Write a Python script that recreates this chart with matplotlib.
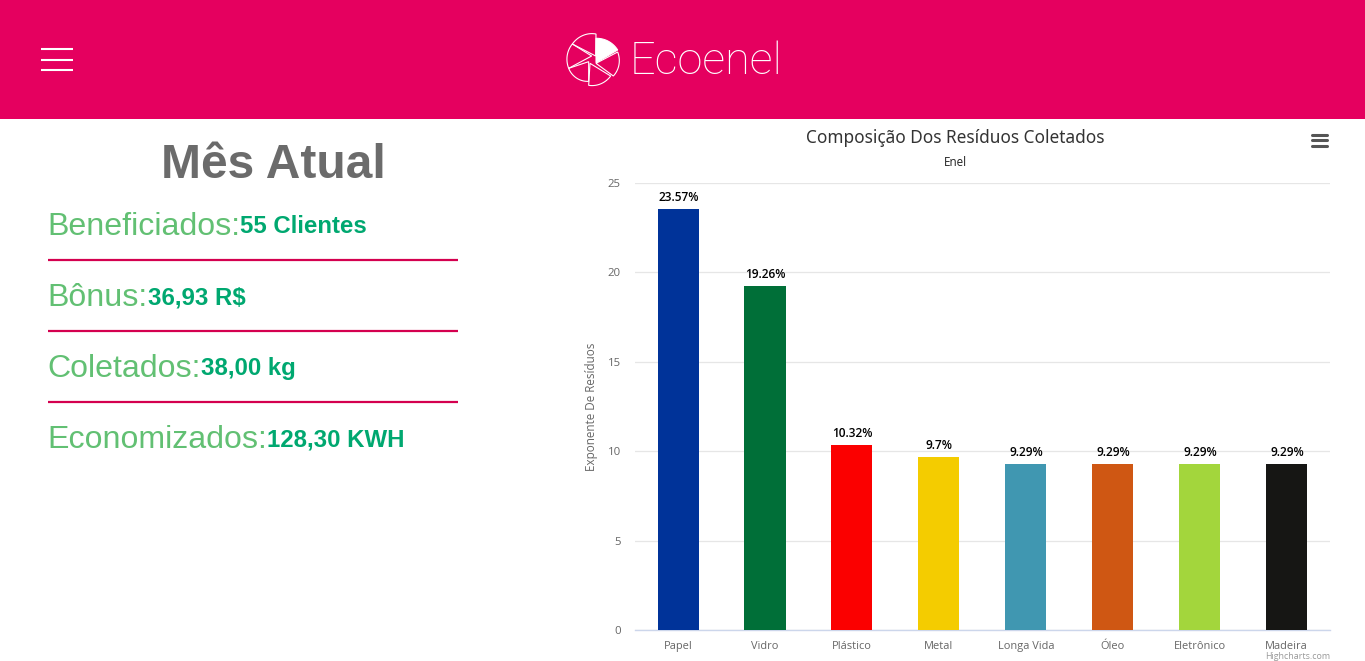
import numpy as np
import matplotlib
matplotlib.use("Agg")
import matplotlib.pyplot as plt
from matplotlib.patches import Rectangle, Polygon

categories = ["Papel", "Vidro", "Plástico", "Metal", "Longa Vida", "Óleo", "Eletrônico", "Madeira"]
values = [23.57, 19.26, 10.32, 9.7, 9.29, 9.29, 9.29, 9.29]
labels = ["23.57%", "19.26%", "10.32%", "9.7%", "9.29%", "9.29%", "9.29%", "9.29%"]
colors = ["#003399", "#006f38", "#fb0000", "#f4cc00", "#4097b1", "#cf5713", "#a3d63c", "#161614"]
yticks = [0, 5, 10, 15, 20, 25]
stat_names = ["Beneficiados:", "Bônus:", "Coletados:", "Economizados:"]
stat_values = ["55 Clientes", "36,93 R$", "38,00 kg", "128,30 KWH"]

W, H = 1365, 661
PINK = "#e5005f"
fig = plt.figure(figsize=(W / 100, H / 100), dpi=100, facecolor="white")

# Page overlay in pixel coordinates
bg = fig.add_axes([0, 0, 1, 1], zorder=0)
bg.set_xlim(0, W); bg.set_ylim(H, 0); bg.axis("off")
bg.add_patch(Rectangle((0, 0), W, 119, color=PINK, lw=0))
for y in (49.4, 60.4, 70.4):
    bg.plot([41, 73], [y, y], color="white", lw=1.5, solid_capstyle="butt")

# Logo: six pinwheel blades (vertex, arc start, arc end, in crop coordinates)
blades = [((168, 128), (168, 55), (233, 90)),
          ((167, 108), (97, 72), (168, 42)),
          ((155, 108), (86, 145), (97, 72)),
          ((146, 125), (146, 184), (86, 145)),
          ((150, 130), (212, 168), (146, 196)),
          ((168, 130), (233, 96), (220, 168))]
for i, (v, a, b) in enumerate(blades):
    v, a, b = (np.array(p, float) for p in (v, a, b))
    t0 = np.arctan2(*(a - v)[::-1]); t1 = np.arctan2(*(b - v)[::-1])
    if t1 < t0:
        t1 += 2 * np.pi
    if t1 - t0 > np.pi:
        t0, t1 = t1, t0 + 2 * np.pi
    th = np.linspace(t0, t1, 24)
    r = np.linspace(np.hypot(*(a - v)), np.hypot(*(b - v)), 24)
    pts = np.vstack([v, np.c_[v[0] + r * np.cos(th), v[1] + r * np.sin(th)]])
    pts = pts / 3 + [540, 20]
    bg.add_patch(Polygon(pts, closed=True, fill=(i == 0), fc="white", ec="white", lw=0.8))
bg.text(630, 62, "Ecoenel", color="white", family="Roboto", weight="light", fontsize=32.5, va="center", ha="left")

# Left panel
bg.text(273, 165, "Mês Atual", color="#6b6b6b", family="Liberation Sans", weight="bold", fontsize=34.5, ha="center", va="center")
rows = [224, 295, 366, 437]
r = fig.canvas.get_renderer()
for y, n, v in zip(rows, stat_names, stat_values):
    t = bg.text(47.5, y + 3, n, color="#62c073", family="Liberation Sans", fontsize=23.1, va="center", ha="left")
    x1 = t.get_window_extent(r).x1
    bg.text(x1, y + 2.5, v, color="#00a870", family="Liberation Sans", weight="bold", fontsize=17.3, va="center", ha="left")
for y in rows[:3]:
    bg.plot([48, 458], [y + 36, y + 36], color="#d4004f", lw=1.6, solid_capstyle="butt")

# Chart titles and decoration
FONT = "Open Sans"
bg.text(955, 138, "Composição Dos Resíduos Coletados", color="#333333", family="Noto Sans", fontsize=12.4, ha="center", va="center")
bg.text(955, 163, "Enel", color="#222222", family=FONT, fontsize=8.4, ha="center", va="center")
for y in (134.5, 140, 145.5):
    bg.plot([1312, 1327], [y, y], color="#555555", lw=2.2, solid_capstyle="round")
bg.text(1330, 656.5, "Highcharts.com", color="#999999", family=FONT, fontsize=6.4, ha="right", va="center")
bg.text(592, 407, "Exponente De Resíduos", color="#666666", family=FONT, fontsize=8.4, rotation=90, ha="center", va="center")

# Bar chart
x0, x1, ytop, ybot = 634.6, 1330, 183, 630
ax = fig.add_axes([x0 / W, 1 - ybot / H, (x1 - x0) / W, (ybot - ytop) / H], zorder=1)
ax.patch.set_alpha(0)
pos = np.arange(len(categories))
ax.bar(pos, values, width=0.472, color=colors, zorder=3)
ax.set_xlim(-0.5, 7.5); ax.set_ylim(0, 25)
ax.set_yticks(yticks); ax.set_xticks(pos, categories)
ax.grid(axis="y", color="#e6e6e6", lw=0.9, zorder=0); ax.set_axisbelow(True)
for s in ("top", "left", "right"):
    ax.spines[s].set_visible(False)
ax.spines["bottom"].set_color("#ccd6eb"); ax.spines["bottom"].set_linewidth(1.0)
ax.tick_params(axis="both", length=0)
ax.tick_params(axis="x", pad=8, labelsize=7.9, labelcolor="#666666")
ax.tick_params(axis="y", pad=10, labelsize=8.2, labelcolor="#666666")
for l in ax.get_xticklabels() + ax.get_yticklabels():
    l.set_family(FONT)
for p, v, s in zip(pos, values, labels):
    ax.annotate(s, (p, v), xytext=(0.5, 11.5), textcoords="offset pixels", ha="center", va="center",
                fontsize=8.6, family=FONT, weight="semibold", color="black")

fig.savefig("out.png", dpi=100)
